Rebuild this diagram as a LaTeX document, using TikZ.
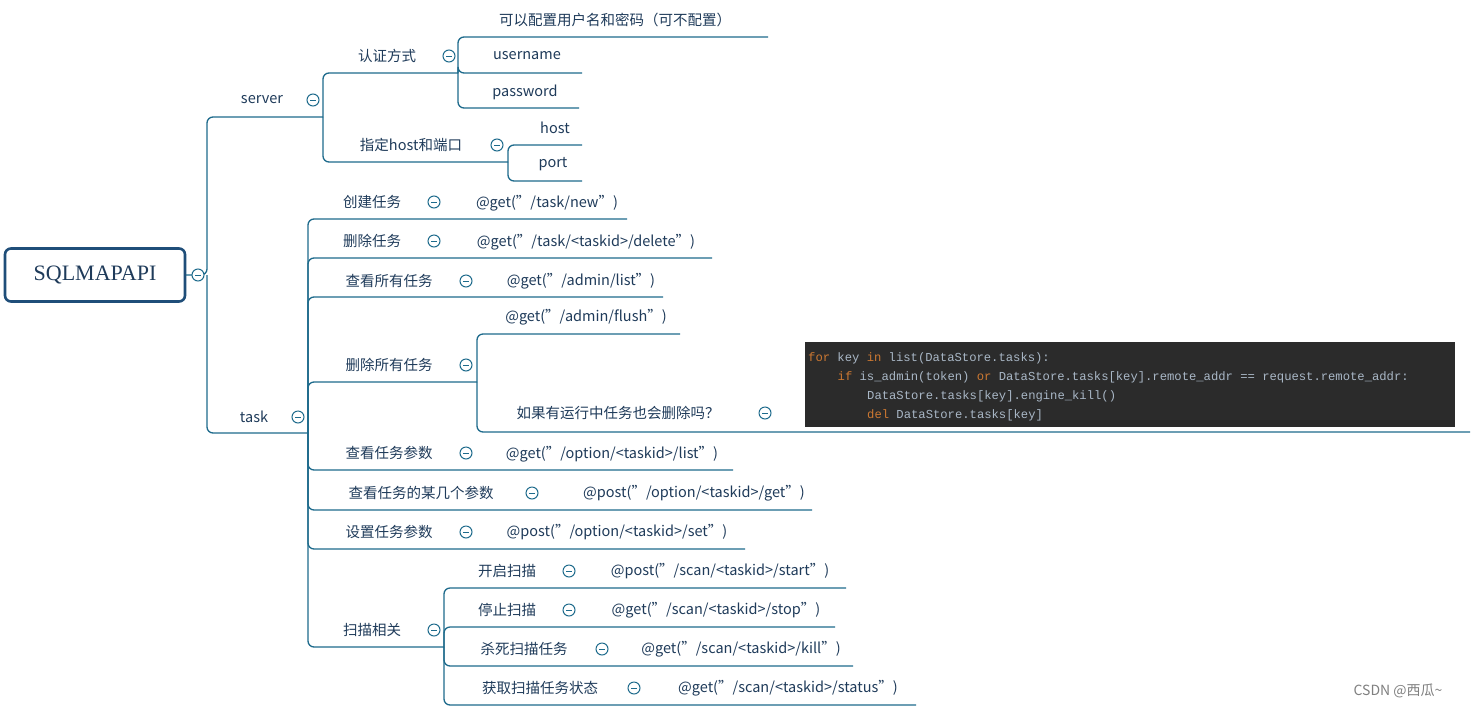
\documentclass[tikz,border=0pt]{standalone}
\usepackage{fontspec}
\setmainfont{Noto Sans CJK SC}
\setmonofont{Liberation Mono}
\newfontfamily\serifroot{Liberation Serif}
\definecolor{ln}{HTML}{1E6B8C}
\definecolor{tx}{HTML}{1F3B5A}
\definecolor{rootc}{HTML}{1F4E79}
\definecolor{codebg}{HTML}{2B2B2B}
\definecolor{kw}{HTML}{CC7832}
\definecolor{cd}{HTML}{A9B7C6}
\tikzset{
  t/.style={text=tx,font=\fontsize{14.5}{17}\selectfont,inner sep=0pt},
  br/.style={draw=ln,line width=1.3pt,rounded corners=6pt},
  mn/.style={circle,draw=ln,fill=white,line width=1pt,minimum size=12pt,inner sep=0pt,
    path picture={\draw[ln,line width=0.9pt] ([xshift=-3pt]path picture bounding box.center) -- ([xshift=3pt]path picture bounding box.center);}},
  cl/.style={anchor=west,inner sep=0pt,font=\ttfamily\fontsize{12.2}{14}\selectfont,text=cd}
}
\begin{document}
\begin{tikzpicture}[x=1pt,y=-1pt]
\useasboundingbox[fill=white] (0,0) rectangle (1474,710);
% root
\node[draw=rootc,line width=2.6pt,rounded corners=6pt,minimum width=180pt,minimum height=53pt,text=tx,font=\serifroot\fontsize{22}{26}\selectfont] (root) at (95,275) {SQLMAPAPI};
% root bracket
\draw[br] (186,275) -- (207,275) |- (323,117);
\draw[br] (207,275) |- (308,433);
\node[mn] (c0) at (198,275) {};
% server
\node[t] (server) at (262,100) {server};
\node[mn] (c1) at (313,100) {};
\draw[br] (323,117) |- (458,73);
\draw[br] (323,117) |- (508,162);
\node[t] (auth) at (387,56) {认证方式};
\node[mn] (c2) at (449,56) {};
\draw[br] (458,73) |- (768,37);
\draw[br] (458,73) |- (582,73);
\draw[br] (458,73) |- (579,108);
\node[t] (cfg) at (615,20) {可以配置用户名和密码（可不配置）};
\node[t] (user) at (527,56) {username};
\node[t] (pass) at (525,92) {password};
\node[t] (hp) at (411,145) {指定host和端口};
\node[mn] (c3) at (497,145) {};
\draw[br] (508,162) |- (582,145);
\draw[br] (508,162) |- (582,181);
\node[t] (host) at (555,128) {host};
\node[t] (port) at (553,164) {port};
% task
\node[t] (task) at (254,417) {task};
\node[mn] (c4) at (298,417) {};
\foreach \y/\e in {219/627,258/712,297/663,382/477,470/733,510/812,549/745,647/444}
  \draw[br] (308,433) |- (\e,\y);
\node[t] (t1) at (372,202) {创建任务}; \node[mn] (c5) at (434,202) {};
\node[t] (t1a) at (547,203) {@get("/task/new")};
\node[t] (t2) at (372,241) {删除任务}; \node[mn] (c6) at (434,241) {};
\node[t] (t2a) at (586,242) {@get("/task/<taskid>/delete")};
\node[t] (t3) at (389,281) {查看所有任务}; \node[mn] (c7) at (466,281) {};
\node[t] (t3a) at (581,281) {@get("/admin/list")};
\node[t] (t4) at (389,365) {删除所有任务}; \node[mn] (c8) at (466,365) {};
\draw[br] (477,382) |- (680,334);
\draw[br] (477,382) |- (1470,432);
\node[t] (t4a) at (586,317) {@get("/admin/flush")};
\node[t] (t4b) at (618,413) {如果有运行中任务也会删除吗？}; \node[mn] (c9) at (765,413) {};
% code
\node[fill=codebg,minimum width=650pt,minimum height=85pt,inner sep=0pt] (code) at (1130,384.5) {};
\node[cl] (l1) at (808,358) {\textcolor{kw}{for} key \textcolor{kw}{in} list(DataStore.tasks):};
\node[cl] (l2) at (837.5,377) {\textcolor{kw}{if} is\_admin(token) \textcolor{kw}{or} DataStore.tasks[key].remote\_addr == request.remote\_addr:};
\node[cl] (l3) at (867,396) {DataStore.tasks[key].engine\_kill()};
\node[cl] (l4) at (867,415) {\textcolor{kw}{del} DataStore.tasks[key]};
\node[t] (t5) at (389,453) {查看任务参数}; \node[mn] (c10) at (466,453) {};
\node[t] (t5a) at (612,454) {@get("/option/<taskid>/list")};
\node[t] (t6) at (421,493) {查看任务的某几个参数}; \node[mn] (c11) at (532,493) {};
\node[t] (t6a) at (694,493) {@post("/option/<taskid>/get")};
\node[t] (t7) at (389,532) {设置任务参数}; \node[mn] (c12) at (466,532) {};
\node[t] (t7a) at (617,532) {@post("/option/<taskid>/set")};
\node[t] (t8) at (372,630) {扫描相关}; \node[mn] (c13) at (434,630) {};
\foreach \y/\e in {588/846,627/835,666/853,705/916}
  \draw[br] (444,647) |- (\e,\y);
\node[t] (s1) at (507,571) {开启扫描}; \node[mn] (c14) at (569,571) {};
\node[t] (s1a) at (720,571) {@post("/scan/<taskid>/start")};
\node[t] (s2) at (507,610) {停止扫描}; \node[mn] (c15) at (569,610) {};
\node[t] (s2a) at (716,610) {@get("/scan/<taskid>/stop")};
\node[t] (s3) at (524,649) {杀死扫描任务}; \node[mn] (c16) at (602,649) {};
\node[t] (s3a) at (741,649) {@get("/scan/<taskid>/kill")};
\node[t] (s4) at (540,688) {获取扫描任务状态}; \node[mn] (c17) at (634,688) {};
\node[t] (s4a) at (788,688) {@get("/scan/<taskid>/status")};
\node[text=gray,font=\fontsize{14}{16}\selectfont,inner sep=0pt] (wm) at (1398,691) {CSDN @西瓜\textasciitilde};
\end{tikzpicture}
\end{document}
